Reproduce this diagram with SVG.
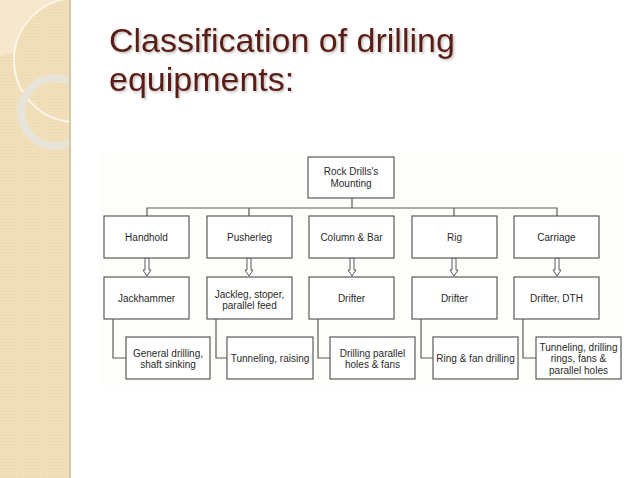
<svg xmlns="http://www.w3.org/2000/svg" width="638" height="478" viewBox="0 0 638 478">
<defs>
<style>
.box{fill:#ffffff;stroke:#5a5a5a;stroke-width:1.2}
.lbl{font-family:"Liberation Sans",Arial,sans-serif;font-size:10px;fill:#2a2a2a;text-anchor:middle}
.ttl{font-family:"Liberation Sans",Arial,sans-serif;font-size:34px;fill:#5a1f14}
.ln{fill:none;stroke:#5a5a5a;stroke-width:1.2}
.arr{fill:#ffffff;stroke:#5a5a5a;stroke-width:1}
</style>
<pattern id="dots" width="3" height="3" patternUnits="userSpaceOnUse">
<rect width="3" height="3" fill="#f1dfb9"/>
<rect width="1" height="1" fill="#e9d5ab"/>
</pattern>
<clipPath id="band"><rect x="0" y="0" width="70" height="478"/></clipPath>
<filter id="sh" x="-5%" y="-20%" width="110%" height="140%">
<feDropShadow dx="1.5" dy="1.5" stdDeviation="1" flood-color="#000" flood-opacity="0.25"/>
</filter>
</defs>
<rect width="638" height="478" fill="#ffffff"/>
<g id="band-deco">
<rect x="0" y="0" width="70" height="478" fill="url(#dots)"/>
<g clip-path="url(#band)">
<path d="M0,0 H55 A60,60 0 0 0 14,52 L0,56 Z" fill="#f6ead2" opacity="0.8"/>
<circle cx="76" cy="60" r="62" fill="none" stroke="#fbf6ea" stroke-width="2"/>
<circle cx="55" cy="112" r="34" fill="none" stroke="#e8e3d8" stroke-width="8"/>
</g>
<rect x="69" y="0" width="2" height="478" fill="#d6c7a5"/>
</g>
<g id="title" filter="url(#sh)">
<text class="ttl" x="109" y="52">Classification of drilling</text>
<text class="ttl" x="109" y="91">equipments:</text>
</g>
<rect x="100" y="151" width="522" height="235" fill="#fdfdfa"/>
<g id="connectors">
<path class="ln" d="M352,198 V208 M147,216 V208 H557 V216 M249,208 V216 M454,208 V216"/>
<path class="arr" d="M145,258 V270 H143 L147,276 L151,270 H149 V258 Z"/>
<path class="arr" d="M247,258 V270 H245 L249,276 L253,270 H251 V258 Z"/>
<path class="arr" d="M350,258 V270 H348 L352,276 L356,270 H354 V258 Z"/>
<path class="arr" d="M452,258 V270 H450 L454,276 L458,270 H456 V258 Z"/>
<path class="arr" d="M555,258 V270 H553 L557,276 L561,270 H559 V258 Z"/>
<path class="ln" d="M113,319 V358 H126"/>
<path class="ln" d="M216,319 V358 H227"/>
<path class="ln" d="M318,319 V358 H330"/>
<path class="ln" d="M421,319 V358 H433"/>
<path class="ln" d="M523,319 V358 H536"/>
</g>
<g id="root"><rect class="box" x="308" y="157" width="86" height="41"/><text class="lbl" x="351" y="175">Rock Drills's</text><text class="lbl" x="351" y="187">Mounting</text></g>
<g id="handhold"><rect class="box" x="104" y="216" width="85" height="42"/><text class="lbl" x="146.5" y="240.5">Handhold</text></g>
<g id="pusherleg"><rect class="box" x="207" y="216" width="85" height="42"/><text class="lbl" x="249.5" y="240.5">Pusherleg</text></g>
<g id="column-bar"><rect class="box" x="309" y="216" width="85" height="42"/><text class="lbl" x="351.5" y="240.5">Column &amp; Bar</text></g>
<g id="rig"><rect class="box" x="412" y="216" width="85" height="42"/><text class="lbl" x="454.5" y="240.5">Rig</text></g>
<g id="carriage"><rect class="box" x="514" y="216" width="85" height="42"/><text class="lbl" x="556.5" y="240.5">Carriage</text></g>
<g id="jackhammer"><rect class="box" x="104" y="277" width="85" height="42"/><text class="lbl" x="146.5" y="301.5">Jackhammer</text></g>
<g id="jackleg"><rect class="box" x="207" y="277" width="85" height="42"/><text class="lbl" x="249.5" y="297.5">Jackleg, stoper,</text><text class="lbl" x="249.5" y="308.5">parallel feed</text></g>
<g id="drifter1"><rect class="box" x="309" y="277" width="85" height="42"/><text class="lbl" x="351.5" y="301.5">Drifter</text></g>
<g id="drifter2"><rect class="box" x="412" y="277" width="85" height="42"/><text class="lbl" x="454.5" y="301.5">Drifter</text></g>
<g id="drifter-dth"><rect class="box" x="514" y="277" width="85" height="42"/><text class="lbl" x="556.5" y="301.5">Drifter, DTH</text></g>
<g id="general"><rect class="box" x="126" y="337" width="84" height="42"/><text class="lbl" x="168" y="356.5">General drilling,</text><text class="lbl" x="168" y="368">shaft sinking</text></g>
<g id="tunneling-raising"><rect class="box" x="227" y="337" width="86" height="42"/><text class="lbl" x="270" y="361.5">Tunneling, raising</text></g>
<g id="parallel-holes"><rect class="box" x="330" y="337" width="85" height="42"/><text class="lbl" x="372.5" y="356.5">Drilling parallel</text><text class="lbl" x="372.5" y="368">holes &amp; fans</text></g>
<g id="ring-fan"><rect class="box" x="433" y="337" width="85" height="42"/><text class="lbl" x="475.5" y="361.5">Ring &amp; fan drilling</text></g>
<g id="tunneling-drilling"><rect class="box" x="536" y="337" width="85" height="42"/><text class="lbl" x="578.5" y="350.5">Tunneling, drilling</text><text class="lbl" x="578.5" y="362">rings, fans &amp;</text><text class="lbl" x="578.5" y="373.5">parallel holes</text></g>
</svg>
